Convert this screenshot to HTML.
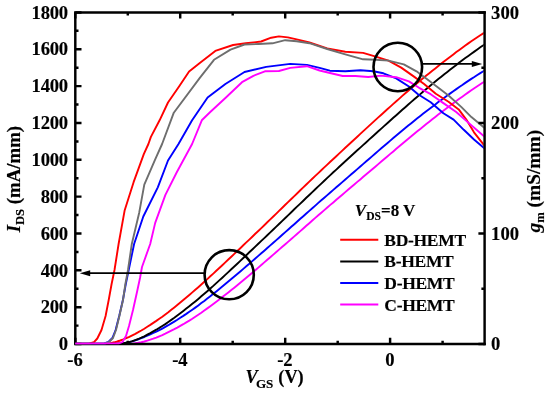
<!DOCTYPE html>
<html><head><meta charset="utf-8"><title>chart</title>
<style>html,body{margin:0;padding:0;background:#fff}svg{display:block}text{font-family:"Liberation Serif","Times New Roman",serif;font-weight:bold;fill:#000;stroke:#000;stroke-width:0.15px}</style></head><body>
<svg width="550" height="393" viewBox="0 0 550 393">
<rect width="550" height="393" fill="#fff"/>
<defs><clipPath id="c"><rect x="75.3" y="12.4" width="408.4" height="332.2"/></clipPath></defs>
<g clip-path="url(#c)" fill="none" stroke-width="1.9" stroke-linejoin="round" stroke-linecap="butt">
<path d="M74.0,344.1 L111.3,344.1 L114.3,344.0 L117.3,343.8 L120.3,343.6 L123.3,343.2 L126.3,342.7 L129.3,342.1 L132.3,341.3 L135.3,340.3 L138.3,339.3 L141.3,338.2 L144.3,337.0 L147.3,335.7 L150.3,334.4 L153.3,333.0 L156.3,331.6 L159.3,330.1 L162.3,328.6 L165.3,326.9 L168.3,325.2 L171.3,323.4 L174.3,321.6 L177.3,319.8 L180.3,317.8 L183.3,315.9 L186.3,313.9 L189.3,311.8 L192.3,309.7 L195.3,307.6 L198.3,305.4 L201.3,303.1 L204.3,300.9 L207.3,298.5 L210.3,296.2 L213.3,293.8 L216.3,291.4 L219.3,289.0 L222.3,286.6 L225.3,284.1 L228.3,281.6 L231.3,279.1 L234.3,276.6 L237.3,274.1 L240.3,271.5 L243.3,268.9 L246.3,266.3 L249.3,263.8 L252.3,261.1 L255.3,258.5 L258.3,255.9 L261.3,253.3 L264.3,250.7 L267.3,248.0 L270.3,245.4 L273.3,242.8 L276.3,240.1 L279.3,237.5 L282.3,234.8 L285.3,232.1 L288.3,229.5 L291.3,226.8 L294.3,224.2 L297.3,221.5 L300.3,218.8 L303.3,216.2 L306.3,213.5 L309.3,210.9 L312.3,208.2 L315.3,205.6 L318.3,202.9 L321.3,200.3 L324.3,197.7 L327.3,195.1 L330.3,192.5 L333.3,189.9 L336.3,187.3 L339.3,184.7 L342.3,182.1 L345.3,179.5 L348.3,176.9 L351.3,174.3 L354.3,171.7 L357.3,169.1 L360.3,166.5 L363.3,163.9 L366.3,161.3 L369.3,158.7 L372.3,156.1 L375.3,153.5 L378.3,150.9 L381.3,148.3 L384.3,145.8 L387.3,143.2 L390.3,140.6 L393.3,138.1 L396.3,135.6 L399.3,133.0 L402.3,130.5 L405.3,128.1 L408.3,125.6 L411.3,123.2 L414.3,120.7 L417.3,118.3 L420.3,116.0 L423.3,113.6 L426.3,111.3 L429.3,109.0 L432.3,106.7 L435.3,104.4 L438.3,102.1 L441.3,99.9 L444.3,97.7 L447.3,95.5 L450.3,93.4 L453.3,91.2 L456.3,89.1 L459.3,87.0 L462.3,85.0 L465.3,82.9 L468.3,80.9 L471.3,78.9 L474.3,77.0 L477.3,75.0 L480.3,73.1 L483.3,71.3 L484.3,70.6" stroke="#0000ff"/>
<path d="M74.0,344.1 L111.3,344.1 L114.3,344.0 L117.3,343.9 L120.3,343.6 L123.3,343.3 L126.3,342.7 L129.3,342.1 L132.3,341.2 L135.3,340.1 L138.3,339.0 L141.3,337.7 L144.3,336.3 L147.3,334.7 L150.3,333.1 L153.3,331.4 L156.3,329.7 L159.3,327.9 L162.3,326.0 L165.3,324.1 L168.3,322.0 L171.3,319.9 L174.3,317.8 L177.3,315.5 L180.3,313.3 L183.3,311.0 L186.3,308.6 L189.3,306.2 L192.3,303.8 L195.3,301.4 L198.3,298.9 L201.3,296.3 L204.3,293.8 L207.3,291.2 L210.3,288.5 L213.3,285.9 L216.3,283.1 L219.3,280.4 L222.3,277.7 L225.3,274.9 L228.3,272.1 L231.3,269.3 L234.3,266.5 L237.3,263.7 L240.3,260.9 L243.3,258.0 L246.3,255.2 L249.3,252.3 L252.3,249.5 L255.3,246.6 L258.3,243.8 L261.3,240.9 L264.3,238.1 L267.3,235.2 L270.3,232.4 L273.3,229.5 L276.3,226.6 L279.3,223.7 L282.3,220.9 L285.3,218.0 L288.3,215.1 L291.3,212.2 L294.3,209.3 L297.3,206.4 L300.3,203.6 L303.3,200.7 L306.3,197.8 L309.3,195.0 L312.3,192.1 L315.3,189.2 L318.3,186.4 L321.3,183.6 L324.3,180.8 L327.3,177.9 L330.3,175.1 L333.3,172.3 L336.3,169.6 L339.3,166.8 L342.3,164.0 L345.3,161.3 L348.3,158.5 L351.3,155.8 L354.3,153.0 L357.3,150.3 L360.3,147.6 L363.3,144.9 L366.3,142.2 L369.3,139.4 L372.3,136.7 L375.3,134.0 L378.3,131.3 L381.3,128.6 L384.3,125.9 L387.3,123.2 L390.3,120.5 L393.3,117.8 L396.3,115.2 L399.3,112.5 L402.3,109.8 L405.3,107.2 L408.3,104.5 L411.3,101.9 L414.3,99.3 L417.3,96.7 L420.3,94.1 L423.3,91.5 L426.3,89.0 L429.3,86.5 L432.3,84.0 L435.3,81.5 L438.3,79.1 L441.3,76.7 L444.3,74.2 L447.3,71.9 L450.3,69.5 L453.3,67.2 L456.3,64.9 L459.3,62.6 L462.3,60.3 L465.3,58.1 L468.3,55.9 L471.3,53.7 L474.3,51.6 L477.3,49.4 L480.3,47.3 L483.3,45.3 L484.3,44.6" stroke="#000000"/>
<path d="M74.0,344.1 L96.3,344.1 L99.3,344.0 L102.3,343.9 L105.3,343.7 L108.3,343.4 L111.3,342.9 L114.3,342.3 L117.3,341.5 L120.3,340.5 L123.3,339.4 L126.3,338.1 L129.3,336.8 L132.3,335.3 L135.3,333.8 L138.3,332.2 L141.3,330.5 L144.3,328.7 L147.3,326.8 L150.3,324.9 L153.3,322.9 L156.3,320.9 L159.3,318.8 L162.3,316.7 L165.3,314.4 L168.3,312.2 L171.3,309.8 L174.3,307.5 L177.3,305.1 L180.3,302.6 L183.3,300.1 L186.3,297.6 L189.3,295.0 L192.3,292.4 L195.3,289.8 L198.3,287.2 L201.3,284.5 L204.3,281.8 L207.3,279.1 L210.3,276.3 L213.3,273.6 L216.3,270.8 L219.3,268.0 L222.3,265.2 L225.3,262.4 L228.3,259.5 L231.3,256.7 L234.3,253.9 L237.3,251.0 L240.3,248.2 L243.3,245.3 L246.3,242.4 L249.3,239.6 L252.3,236.7 L255.3,233.8 L258.3,231.0 L261.3,228.1 L264.3,225.2 L267.3,222.3 L270.3,219.4 L273.3,216.5 L276.3,213.6 L279.3,210.6 L282.3,207.7 L285.3,204.8 L288.3,201.9 L291.3,199.0 L294.3,196.1 L297.3,193.2 L300.3,190.3 L303.3,187.4 L306.3,184.5 L309.3,181.6 L312.3,178.8 L315.3,175.9 L318.3,173.1 L321.3,170.2 L324.3,167.4 L327.3,164.6 L330.3,161.8 L333.3,159.0 L336.3,156.2 L339.3,153.4 L342.3,150.6 L345.3,147.8 L348.3,145.0 L351.3,142.2 L354.3,139.5 L357.3,136.7 L360.3,133.9 L363.3,131.1 L366.3,128.4 L369.3,125.6 L372.3,122.9 L375.3,120.1 L378.3,117.4 L381.3,114.7 L384.3,112.0 L387.3,109.3 L390.3,106.6 L393.3,103.9 L396.3,101.2 L399.3,98.6 L402.3,95.9 L405.3,93.3 L408.3,90.7 L411.3,88.2 L414.3,85.6 L417.3,83.1 L420.3,80.6 L423.3,78.1 L426.3,75.6 L429.3,73.2 L432.3,70.7 L435.3,68.4 L438.3,66.0 L441.3,63.6 L444.3,61.3 L447.3,59.0 L450.3,56.7 L453.3,54.4 L456.3,52.1 L459.3,49.9 L462.3,47.7 L465.3,45.5 L468.3,43.4 L471.3,41.3 L474.3,39.3 L477.3,37.3 L480.3,35.3 L483.3,33.4 L484.3,32.8" stroke="#ff0000"/>
<path d="M74.0,344.1 L123.3,344.1 L126.3,344.0 L129.3,343.9 L132.3,343.7 L135.3,343.3 L138.3,342.8 L141.3,342.2 L144.3,341.5 L147.3,340.6 L150.3,339.7 L153.3,338.7 L156.3,337.6 L159.3,336.3 L162.3,335.1 L165.3,333.7 L168.3,332.2 L171.3,330.7 L174.3,329.2 L177.3,327.6 L180.3,325.9 L183.3,324.2 L186.3,322.4 L189.3,320.6 L192.3,318.7 L195.3,316.7 L198.3,314.7 L201.3,312.7 L204.3,310.5 L207.3,308.4 L210.3,306.2 L213.3,303.9 L216.3,301.7 L219.3,299.4 L222.3,297.1 L225.3,294.8 L228.3,292.4 L231.3,290.1 L234.3,287.7 L237.3,285.2 L240.3,282.8 L243.3,280.3 L246.3,277.8 L249.3,275.2 L252.3,272.7 L255.3,270.2 L258.3,267.6 L261.3,265.0 L264.3,262.4 L267.3,259.8 L270.3,257.2 L273.3,254.6 L276.3,252.0 L279.3,249.4 L282.3,246.8 L285.3,244.2 L288.3,241.6 L291.3,239.0 L294.3,236.4 L297.3,233.7 L300.3,231.1 L303.3,228.5 L306.3,225.8 L309.3,223.2 L312.3,220.5 L315.3,217.9 L318.3,215.3 L321.3,212.7 L324.3,210.1 L327.3,207.5 L330.3,204.9 L333.3,202.4 L336.3,199.8 L339.3,197.2 L342.3,194.7 L345.3,192.1 L348.3,189.6 L351.3,187.0 L354.3,184.5 L357.3,181.9 L360.3,179.4 L363.3,176.8 L366.3,174.3 L369.3,171.8 L372.3,169.2 L375.3,166.7 L378.3,164.1 L381.3,161.6 L384.3,159.0 L387.3,156.5 L390.3,153.9 L393.3,151.4 L396.3,148.8 L399.3,146.3 L402.3,143.8 L405.3,141.3 L408.3,138.8 L411.3,136.3 L414.3,133.8 L417.3,131.3 L420.3,128.9 L423.3,126.5 L426.3,124.1 L429.3,121.7 L432.3,119.3 L435.3,116.9 L438.3,114.6 L441.3,112.3 L444.3,110.0 L447.3,107.7 L450.3,105.5 L453.3,103.2 L456.3,101.0 L459.3,98.8 L462.3,96.7 L465.3,94.5 L468.3,92.4 L471.3,90.3 L474.3,88.2 L477.3,86.2 L480.3,84.2 L483.3,82.2 L484.3,81.5" stroke="#ff00ff"/>
</g>
<path d="M484.6,12.4 H75.3 V344.0 H484.6" stroke="#000" stroke-width="2.45" fill="none" stroke-linecap="square" stroke-linejoin="miter"/>
<path d="M75.3,344.0 v-6.2 M75.3,12.4 v6.2 M127.8,344.0 v-3.2 M127.8,12.4 v3.2 M180.2,344.0 v-6.2 M180.2,12.4 v6.2 M232.7,344.0 v-3.2 M232.7,12.4 v3.2 M285.2,344.0 v-6.2 M285.2,12.4 v6.2 M337.7,344.0 v-3.2 M337.7,12.4 v3.2 M390.1,344.0 v-6.2 M390.1,12.4 v6.2 M442.6,344.0 v-3.2 M442.6,12.4 v3.2 M75.3,344.0 h6.2 M75.3,325.6 h3.2 M75.3,307.2 h6.2 M75.3,288.7 h3.2 M75.3,270.3 h6.2 M75.3,251.9 h3.2 M75.3,233.5 h6.2 M75.3,215.0 h3.2 M75.3,196.6 h6.2 M75.3,178.2 h3.2 M75.3,159.8 h6.2 M75.3,141.4 h3.2 M75.3,122.9 h6.2 M75.3,104.5 h3.2 M75.3,86.1 h6.2 M75.3,67.7 h3.2 M75.3,49.2 h6.2 M75.3,30.8 h3.2 M75.3,12.4 h6.2" stroke="#000" stroke-width="2.45" fill="none"/>
<g clip-path="url(#c)" fill="none" stroke-width="1.9" stroke-linejoin="round" stroke-linecap="butt">
<path d="M74.0,343.6 L89.5,343.5 L94.0,342.2 L97.3,338.5 L101.5,330.0 L105.6,316.0 L108.7,300.0 L111.6,284.0 L114.5,270.0 L118.6,244.0 L124.7,210.2 L133.6,182.2 L143.8,154.2 L148.4,144.0 L150.9,136.9 L159.6,120.3 L168.0,102.5 L179.4,86.0 L189.1,71.5 L199.8,63.1 L215.3,50.9 L233.1,45.0 L245.8,43.3 L261.1,41.5 L271.2,37.7 L278.9,36.4 L287.8,37.4 L296.7,39.4 L309.4,42.5 L327.2,48.4 L345.3,51.7 L363.1,52.9 L375.8,56.7 L388.5,60.6 L401.2,67.6 L414.0,76.6 L424.1,84.0 L435.8,93.7 L448.5,101.8 L458.7,109.4 L466.3,119.6 L474.0,132.3 L484.6,145.8" stroke="#ff0000"/>
<path d="M74.0,343.6 L104.4,343.5 L108.4,342.0 L112.4,338.0 L115.6,330.0 L119.2,316.0 L122.9,300.0 L125.8,284.0 L128.7,270.0 L134.1,244.0 L143.3,216.5 L157.8,187.3 L168.0,160.5 L178.5,144.0 L192.1,120.3 L207.6,97.5 L225.4,84.0 L244.5,72.0 L266.2,66.9 L290.3,63.9 L306.9,64.9 L319.6,67.9 L329.8,70.7 L345.3,71.3 L360.5,70.2 L373.3,71.2 L383.4,73.3 L396.2,78.4 L408.9,86.5 L418.0,94.2 L430.7,102.3 L443.4,113.3 L453.6,119.6 L463.8,129.8 L474.0,139.5 L484.6,148.6" stroke="#0000ff"/>
<path d="M74.0,343.6 L105.0,343.5 L109.0,342.0 L113.0,338.0 L116.0,330.0 L119.4,316.0 L123.0,300.0 L125.4,284.0 L128.0,270.0 L131.8,244.0 L139.2,212.7 L144.3,184.7 L155.2,159.3 L162.1,144.0 L173.8,112.7 L200.0,77.6 L214.0,59.8 L230.5,49.6 L244.5,44.5 L258.5,44.0 L272.5,43.3 L285.2,40.2 L296.7,41.2 L309.4,43.2 L327.2,49.0 L345.3,54.4 L363.1,59.3 L375.8,59.8 L388.5,60.6 L403.8,64.4 L416.5,71.3 L431.8,82.7 L448.5,95.5 L461.2,106.9 L471.4,117.1 L484.6,128.0" stroke="#6e6e6e"/>
<path d="M74.0,343.6 L119.0,343.5 L122.5,342.0 L126.0,336.0 L129.0,326.0 L133.0,310.0 L137.0,292.0 L140.0,278.0 L142.0,267.0 L150.2,244.0 L155.2,222.9 L165.4,194.9 L176.9,172.0 L192.1,144.0 L201.8,120.3 L210.0,112.2 L225.4,98.0 L242.0,82.2 L253.4,75.8 L264.9,71.3 L278.9,71.0 L290.3,67.9 L306.9,66.2 L319.6,70.5 L330.0,73.0 L342.7,76.0 L355.4,76.0 L368.2,77.0 L380.9,75.6 L396.2,77.2 L408.9,81.4 L419.1,87.8 L430.7,94.2 L443.4,103.1 L456.2,112.0 L466.3,120.9 L476.5,129.8 L484.6,136.8" stroke="#ff00ff"/>
</g>
<path d="M484.6,12.4 V344.0" stroke="#000" stroke-width="2.45" fill="none" stroke-linecap="square"/>
<path d="M484.6,344.0 h-6.2 M484.6,288.7 h-3.2 M484.6,233.5 h-6.2 M484.6,178.2 h-3.2 M484.6,122.9 h-6.2 M484.6,67.7 h-3.2 M484.6,12.4 h-6.2" stroke="#000" stroke-width="2.45" fill="none"/>
<g fill="none" stroke="#000" stroke-width="2.6"><circle cx="397.8" cy="67" r="24.3"/><circle cx="229.2" cy="274.7" r="24.6"/></g>
<g stroke="#000" stroke-width="1.8"><line x1="421" y1="63.9" x2="474" y2="63.9"/><line x1="205" y1="273.2" x2="90" y2="273.2"/></g>
<polygon points="482.2,63.9 471.8,60.9 471.8,66.9" fill="#000"/>
<polygon points="79.8,273.2 90.2,270.2 90.2,276.2" fill="#000"/>
<g font-size="18.6" text-anchor="end" letter-spacing="-0.25">
<text x="67.8" y="350.2">0</text>
<text x="67.8" y="313.4">200</text>
<text x="67.8" y="276.5">400</text>
<text x="67.8" y="239.7">600</text>
<text x="67.8" y="202.8">800</text>
<text x="67.8" y="166.0">1000</text>
<text x="67.8" y="129.1">1200</text>
<text x="67.8" y="92.3">1400</text>
<text x="67.8" y="55.4">1600</text>
<text x="67.8" y="18.6">1800</text>
</g>
<g font-size="18.6" text-anchor="start">
<text x="491.1" y="350.2">0</text>
<text x="491.1" y="239.7">100</text>
<text x="491.1" y="129.1">200</text>
<text x="491.1" y="18.6">300</text>
</g>
<g font-size="18.6" text-anchor="middle">
<text x="75.0" y="366.2">-6</text>
<text x="179.9" y="366.2">-4</text>
<text x="284.9" y="366.2">-2</text>
<text x="389.8" y="366.2">0</text>
</g>
<text font-size="18.3" y="382.6"><tspan x="245.6" font-style="italic">V</tspan><tspan x="255.9" font-size="13.1" dy="5.3">GS</tspan><tspan x="278.3" dy="-5.3">(V)</tspan></text>
<text font-size="18.8" transform="translate(19.6,232.3) rotate(-90)"><tspan font-style="italic">I</tspan><tspan font-size="12.6" dy="4.6">DS</tspan><tspan dy="-4.6"> (mA/mm)</tspan></text>
<text font-size="19.4" transform="translate(539.5,232.5) rotate(-90)"><tspan font-style="italic">g</tspan><tspan font-size="12.6" dy="4.6">m</tspan><tspan dy="-4.6"> (mS/mm)</tspan></text>
<text font-size="17" x="354.8" y="215.5"><tspan font-style="italic">V</tspan><tspan font-size="11.6" dy="4.3">DS</tspan><tspan dy="-4.3">=8 V</tspan></text>
<g stroke-width="2">
<line x1="340.2" y1="239.8" x2="378.3" y2="239.8" stroke="#ff0000"/>
<text font-size="17.5" letter-spacing="-0.3" x="384.3" y="245.7">BD-HEMT</text>
<line x1="340.2" y1="261.4" x2="378.3" y2="261.4" stroke="#000000"/>
<text font-size="17.5" letter-spacing="-0.3" x="384.3" y="267.3">B-HEMT</text>
<line x1="340.2" y1="283.0" x2="378.3" y2="283.0" stroke="#0000ff"/>
<text font-size="17.5" letter-spacing="-0.3" x="384.3" y="288.9">D-HEMT</text>
<line x1="340.2" y1="304.6" x2="378.3" y2="304.6" stroke="#ff00ff"/>
<text font-size="17.5" letter-spacing="-0.3" x="384.3" y="310.5">C-HEMT</text>
</g>
</svg></body></html>
